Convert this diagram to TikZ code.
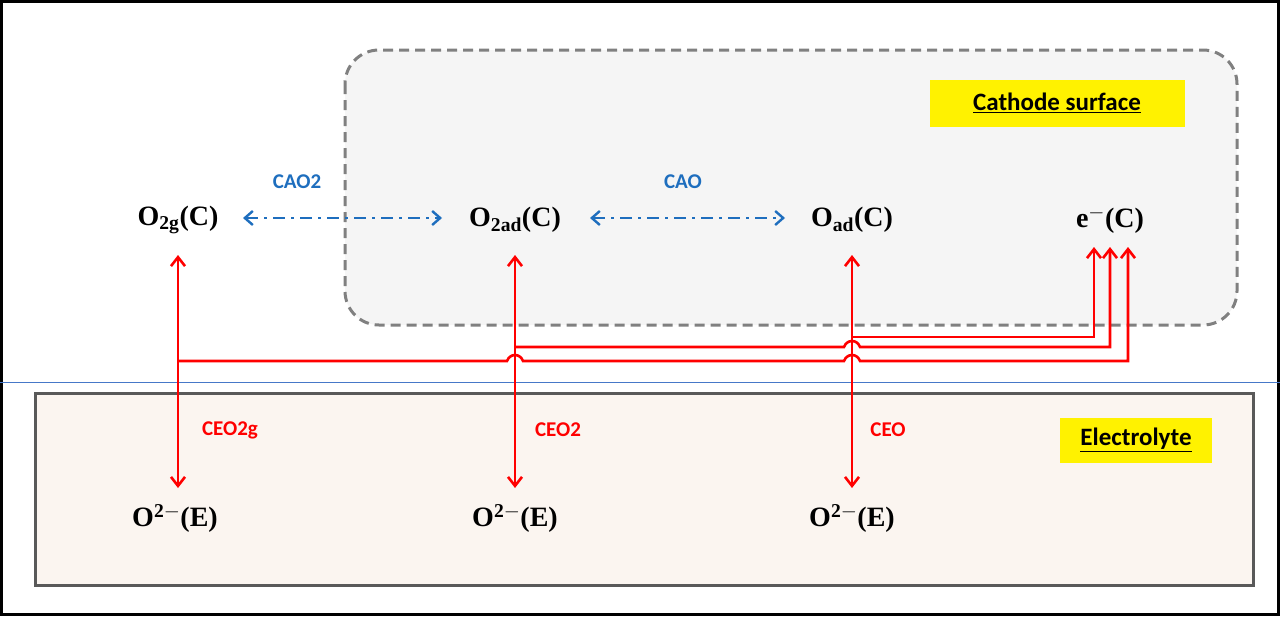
\documentclass[tikz,border=0pt]{standalone}
\usepackage{fontspec}
\usetikzlibrary{arrows.meta}
\setmainfont{Liberation Serif}
\newfontfamily\lab{Carlito}
\definecolor{bl}{RGB}{30,110,190}
\definecolor{ln}{RGB}{70,120,200}
\definecolor{beige}{RGB}{251,245,240}
\begin{document}
\begin{tikzpicture}[x=1pt,y=-1pt,
  spec/.style={font=\bfseries\fontsize{28}{32}\selectfont, inner sep=1pt},
  rlab/.style={text=red, font=\lab\bfseries\fontsize{21}{24}\selectfont},
  blab/.style={text=bl, font=\lab\bfseries\fontsize{21}{24}\selectfont},
  rarr/.style={draw=red, line width=2.6pt, {Straight Barb[length=9pt,width=14pt]}-{Straight Barb[length=9pt,width=14pt]}},
  rline/.style={draw=red, line width=2.6pt, -{Straight Barb[length=9pt,width=14pt]}},
  barr/.style={draw=bl, line width=2.4pt, dash pattern=on 12pt off 6pt on 3pt off 6pt, {Straight Barb[length=8pt,width=14pt]}-{Straight Barb[length=8pt,width=14pt]}},
  ylab/.style={fill=yellow, font=\lab\bfseries\fontsize{25}{28}\selectfont, minimum height=47pt}]
\useasboundingbox (0,0) rectangle (1280,616);
\draw[line width=3pt] (1.5,1.5) rectangle (1278.5,614.5);
\draw[line width=3pt, draw=gray, fill=gray!8, rounded corners=34pt, dash pattern=on 10pt off 6pt] (345,50) rectangle (1237,325);
\draw[ln, line width=1pt] (0,382) -- (1280,382);
\draw[line width=3pt, gray!70!black, fill=beige] (35,393) rectangle (1253,585);
\node[ylab, minimum width=255pt] (cs) at (1057,103) {\underline{Cathode surface}};
\node[ylab, minimum width=152pt, minimum height=45pt] (el) at (1136,440) {\underline{Electrolyte}};
\node[spec] (o2g) at (178,220) {O$_{\mathbf{2g}}$(C)};
\node[spec] (o2ad) at (515,220) {O$_{\mathbf{2ad}}$(C)};
\node[spec] (oad) at (852,220) {O$_{\mathbf{ad}}$(C)};
\node[spec] (e) at (1110,220) {e$^{-}$(C)};
\node[spec] (e1) at (175,518) {O$^{\mathbf{2-}}$(E)};
\node[spec] (e2) at (515,518) {O$^{\mathbf{2-}}$(E)};
\node[spec] (e3) at (852,518) {O$^{\mathbf{2-}}$(E)};
\draw[barr] (243,218) -- (442,218);
\draw[barr] (590,218) -- (785,218);
\node[blab] (l1) at (297,182) {CAO2};
\node[blab] (l2) at (683,182) {CAO};
\draw[rarr] (178,255) -- (178,488);
\draw[rarr] (515,255) -- (515,488);
\draw[rarr] (852,255) -- (852,488);
\node[rlab] (r1) at (230,430) {CEO2g};
\node[rlab] (r2) at (558,430) {CEO2};
\node[rlab] (r3) at (888,430) {CEO};
\coordinate (a3) at (1094,247);
\coordinate (a2) at (1110,247);
\coordinate (a1) at (1128,247);
\draw[rline] (852,337) -- (1094,337) -- (a3);
\draw[rline] (515,347) -- (844,347) .. controls (847,339) and (857,339) .. (860,347) -- (1110,347) -- (a2);
\draw[rline] (178,361) -- (507,361) .. controls (510,353) and (520,353) .. (523,361) -- (844,361) .. controls (847,353) and (857,353) .. (860,361) -- (1128,361) -- (a1);
\end{tikzpicture}
\end{document}
